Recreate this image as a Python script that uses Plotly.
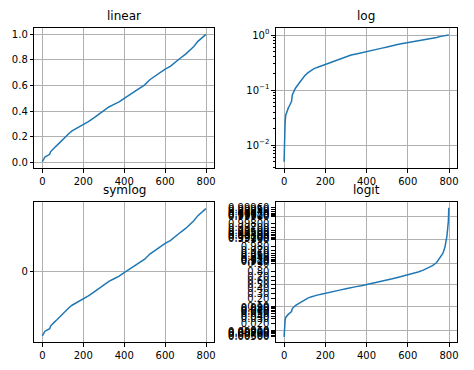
import numpy as np
import plotly.graph_objects as go

# ---- data (sorted values in (0, 1)) ----
x_vals = [0, 1, 3, 5, 8, 12, 16, 21, 26, 32, 36, 40, 45, 52, 60, 70, 80, 90, 100,
          115, 130, 145, 160, 180, 200, 225, 250, 275, 300, 325, 350, 375, 400,
          425, 450, 475, 500, 525, 550, 575, 600, 625, 650, 675, 700, 720, 740,
          760, 770, 780, 786, 790, 794, 797, 799]
y_vals = [0.005, 0.009, 0.016, 0.026, 0.035, 0.040, 0.044, 0.048, 0.052, 0.056,
          0.062, 0.082, 0.092, 0.103, 0.115, 0.130, 0.146, 0.165, 0.182,
          0.205, 0.225, 0.245, 0.258, 0.275, 0.297, 0.318, 0.345, 0.372, 0.400,
          0.432, 0.452, 0.472, 0.500, 0.525, 0.550, 0.578, 0.605, 0.645, 0.675,
          0.702, 0.728, 0.750, 0.785, 0.815, 0.845, 0.875, 0.905,
          0.945, 0.960, 0.978, 0.988, 0.993, 0.997, 0.9985, 0.9996]

x_ticks = [0, 200, 400, 600, 800]
lin_ticks = [0.0, 0.2, 0.4, 0.6, 0.8, 1.0]
log_ticks = [0.01, 0.1, 1.0]
log_labels = ["10<sup>−2</sup>", "10<sup>−1</sup>", "10<sup>0</sup>"]
log_minor = [0.004, 0.005, 0.006, 0.007, 0.008, 0.009,
             0.02, 0.03, 0.04, 0.05, 0.06, 0.07, 0.08, 0.09,
             0.2, 0.3, 0.4, 0.5, 0.6, 0.7, 0.8, 0.9]
logit_major = [0.01, 0.1, 0.5, 0.9, 0.99, 0.999]
logit_labeled = ([0.005, 0.006, 0.007, 0.008, 0.009, 0.01, 0.02, 0.03, 0.04, 0.05,
                  0.06, 0.07, 0.08, 0.09, 0.1, 0.2, 0.3, 0.4, 0.5, 0.6, 0.7, 0.8, 0.9,
                  0.91, 0.92, 0.93, 0.94, 0.95, 0.96, 0.97, 0.98, 0.99,
                  0.991, 0.992, 0.993, 0.994, 0.995, 0.996, 0.997, 0.998, 0.999,
                  0.9991, 0.9992, 0.9993, 0.9994, 0.9995, 0.9996])


def logit_label(v):
    if v < 0.01 or v > 0.99:
        return f"{v:.5f}"
    if v < 0.1 or v > 0.9:
        return f"{v:.3f}"
    return f"{v:.2f}"


x = np.array(x_vals, dtype=float)
y = np.array(y_vals, dtype=float)
mean_y = np.trapezoid(y, x) / (x[-1] - x[0])
y_sym = y - mean_y


def logit(p):
    p = np.asarray(p, dtype=float)
    return np.log10(p / (1 - p))


y_logit = logit(y)

W, H = 474, 370
BLUE = "#1f77b4"
FONT = "DejaVu Sans"


def xdom(a, b):
    return [a / W, b / W]


def ydom(top, bottom):
    return [1 - bottom / H, 1 - top / H]


boxes = {
    1: (34.3, 215.0, 28.3, 168.3),
    2: (277.0, 459.0, 28.3, 168.3),
    3: (34.3, 215.0, 202.3, 342.3),
    4: (277.0, 459.0, 202.3, 342.3),
}

fig = go.Figure()
series = {1: y, 2: y, 3: y_sym, 4: y_logit}
for i in range(1, 5):
    sfx = "" if i == 1 else str(i)
    fig.add_trace(go.Scatter(x=x, y=series[i], mode="lines",
                             line=dict(color=BLUE, width=1.5),
                             xaxis="x" + sfx, yaxis="y" + sfx,
                             showlegend=False, hoverinfo="skip"))

common = dict(showline=True, linecolor="black", linewidth=0.8, mirror=True,
              ticks="outside", ticklen=3.5, tickwidth=0.8, tickcolor="black",
              showgrid=True, gridcolor="#b0b0b0", gridwidth=0.8, zeroline=False,
              tickfont=dict(family=FONT, size=10, color="black"))

layout = {}
for i in range(1, 5):
    sfx = "" if i == 1 else str(i)
    l, r, t, b = boxes[i]
    layout["xaxis" + sfx] = dict(common, domain=xdom(l, r), anchor="y" + sfx,
                                 range=[-40, 839], tickvals=x_ticks,
                                 ticktext=[str(v) for v in x_ticks])
    layout["yaxis" + sfx] = dict(common, domain=ydom(t, b), anchor="x" + sfx)

layout["yaxis"].update(range=[-0.047, 1.047], tickvals=lin_ticks,
                       ticktext=[f"{v:.1f}" for v in lin_ticks])
layout["yaxis2"].update(type="log", range=[-2.42, 0.122], tickvals=log_ticks,
                        ticktext=log_labels,
                        minor=dict(tickvals=log_minor, ticks="outside", ticklen=2,
                                   tickwidth=0.6, tickcolor="black", showgrid=False))
span = y_sym.max() - y_sym.min()
layout["yaxis3"].update(range=[y_sym.min() - 0.05 * span, y_sym.max() + 0.05 * span],
                        tickvals=[0], ticktext=["0"])
layout["yaxis4"].update(range=[-2.538, 3.634], tickvals=list(logit(logit_labeled)),
                        ticktext=[logit_label(v) for v in logit_labeled],
                        showgrid=False,
                        minor=dict(tickvals=list(logit(logit_major)), ticks="",
                                   showgrid=True, gridcolor="#b0b0b0", gridwidth=0.8))

titles = {1: "linear", 2: "log", 3: "symlog", 4: "logit"}
annotations = []
for i, name in titles.items():
    l, r, t, b = boxes[i]
    annotations.append(dict(text=name, xref="paper", yref="paper",
                            x=(l + r) / 2 / W, y=1 - t / H, xanchor="center",
                            yanchor="bottom", yshift=3, showarrow=False,
                            font=dict(family=FONT, size=12, color="black")))

fig.update_layout(width=W, height=H, margin=dict(l=0, r=0, t=0, b=0),
                  paper_bgcolor="white", plot_bgcolor="white",
                  annotations=annotations, **layout)

fig.write_html("out.html")
